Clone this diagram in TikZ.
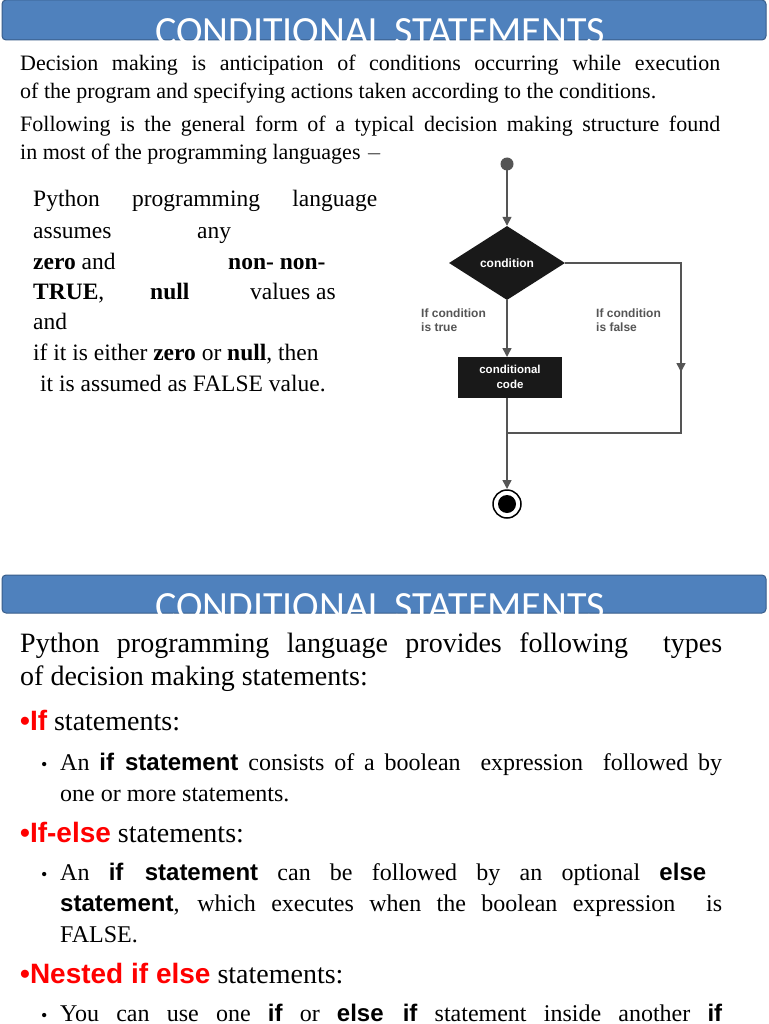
\documentclass[tikz,border=0pt]{standalone}
\usepackage{fontspec}
\setmainfont{Liberation Serif}
\setsansfont{Liberation Sans}
\newfontfamily\titlefont{Carlito}
\usetikzlibrary{shapes.geometric,arrows.meta}
\definecolor{barblue}{RGB}{79,129,189}
\definecolor{bardark}{RGB}{56,93,138}
\definecolor{fcgray}{RGB}{85,85,85}
\tikzset{
 bar/.style={fill=barblue,draw=bardark,line width=1pt,rounded corners=4pt},
 ttl/.style={text=white,font=\titlefont\fontsize{40}{40}\selectfont,anchor=base},
 tx/.style={anchor=base west,inner sep=0pt,font=\fontsize{22}{24}\selectfont},
 py/.style={anchor=base west,inner sep=0pt,font=\fontsize{23.5}{26}\selectfont},
 big/.style={anchor=base west,inner sep=0pt,font=\fontsize{28}{30}\selectfont},
 sub/.style={anchor=base west,inner sep=0pt,font=\fontsize{24}{26}\selectfont},
 fl/.style={draw=fcgray,line width=1.5pt},
 fa/.style={fl,-{Triangle[length=9pt,width=9pt]}},
 lab/.style={font=\sffamily\bfseries\fontsize{12}{14}\selectfont,text=fcgray,align=left,inner sep=0pt,anchor=north west},
}
\newcommand{\myrb}[1]{{\sffamily\bfseries\color{red}#1}}
\newcommand{\mysb}[1]{{\sffamily\bfseries #1}}
\begin{document}
\begin{tikzpicture}[x=1pt,y=-1pt]
\useasboundingbox (0,0) rectangle (768,1024);
\fill[white] (0,0) rectangle (768,1024);
% bar 1
\begin{scope}
\clip (0,0) rectangle (768,41);
\node[bar,minimum width=764,minimum height=40,inner sep=0pt] (bar1) at (384,20) {};
\node[ttl] (t1) at (380,45) {CONDITIONAL STATEMENTS};
\end{scope}
\node[tx] (a1) at (20,71) {\makebox[700pt][s]{Decision making is anticipation of conditions occurring while execution}};
\node[tx] (a2) at (20,99) {of the program and specifying actions taken according to the conditions.};
\node[tx] (a3) at (20,132) {\makebox[700pt][s]{Following is the general form of a typical decision making structure found}};
\node[tx] (a4) at (20,160) {in most of the programming languages $-$};
% python paragraph
\node[py] (p1) at (33,207) {\makebox[344pt][s]{Python programming language}};
\node[py] (p2a) at (33,238) {assumes};
\node[py] (p2b) at (197,238) {any};
\node[py] (p3a) at (33,269) {\textbf{zero} and};
\node[py] (p3b) at (228,269) {\textbf{non- non-}};
\node[py] (p4a) at (33,299) {\textbf{TRUE},};
\node[py] (p4b) at (150,299) {\textbf{null}};
\node[py] (p4c) at (250,299) {values as};
\node[py] (p5) at (33,329) {and};
\node[py] (p6) at (33,360) {if it is either \textbf{zero} or \textbf{null}, then};
\node[py] (p7) at (40,391) {it is assumed as FALSE value.};
% flowchart
\fill[fcgray] (507,164) circle (6.5);
\coordinate (st) at (507,170);
\node[diamond,fill=black!90,minimum width=116,minimum height=74,inner sep=0pt,text=white,font=\sffamily\bfseries\fontsize{12}{14}\selectfont] (cond) at (507,263) {condition};
\node[fill=black!90,minimum width=104,minimum height=41,inner sep=0pt,text=white,align=center,font=\sffamily\bfseries\fontsize{11.5}{15}\selectfont] (code) at (510,377) {conditional\\code};
\coordinate (rt) at (681,263);
\coordinate (rb) at (681,433);
\coordinate (rm) at (681,372);
\coordinate (jn) at (507,433);
\draw[fa] (st) -- (cond.north);
\draw[fa] (cond.south) -- (507,357);
\draw[fl] (cond.east) -- (rt) -- (rb) -- (jn);
\draw[fa] (rt) -- (rm);
\draw[fl] (code.south -| jn) -- (jn);
\draw[fa] (jn) -- (507,489);
\node[circle,draw=black,line width=1.5pt,minimum size=28,inner sep=0pt] (end) at (507,504) {};
\fill[black] (end) circle (9);
\node[lab] (l1) at (421,309) {If condition\\ is true};
\node[lab] (l2) at (596,309) {If condition\\is false};
% bar 2
\begin{scope}
\clip (0,570) rectangle (768,615);
\node[bar,minimum width=764,minimum height=38,inner sep=0pt] (bar2) at (384,594) {};
\node[ttl] (t2) at (380,619) {CONDITIONAL STATEMENTS};
\end{scope}
\node[big] (b1) at (20,652) {\makebox[702pt][s]{Python programming language provides following \ types}};
\node[big] (b2) at (20,685) {of decision making statements:};
\node[big] (c1) at (20,730) {\myrb{•If} statements:};
\node[sub] (d0) at (41,770) {\fontsize{18}{18}\selectfont•};
\node[sub] (d1) at (60,770) {\makebox[662pt][s]{An \mysb{if statement} consists of a boolean \ expression \ followed by}};
\node[sub] (d2) at (60,801) {one or more statements.};
\node[big] (c2) at (20,842) {\myrb{•If-else} statements:};
\node[sub] (e0) at (41,880) {\fontsize{18}{18}\selectfont•};
\node[sub] (e1) at (60,880) {\makebox[646pt][s]{An \mysb{if statement} can be followed by an optional \mysb{else}}};
\node[sub] (e2) at (60,911) {\makebox[662pt][s]{\mysb{statement}, which executes when the boolean expression \ is}};
\node[sub] (e3) at (60,942) {FALSE.};
\node[big] (c3) at (20,983) {\myrb{•Nested if else} statements:};
\node[sub] (f0) at (41,1021) {\fontsize{18}{18}\selectfont•};
\node[sub] (f1) at (60,1021) {\makebox[662pt][s]{You can use one \mysb{if} or \mysb{else if} statement inside another \mysb{if}}};
\end{tikzpicture}
\end{document}
